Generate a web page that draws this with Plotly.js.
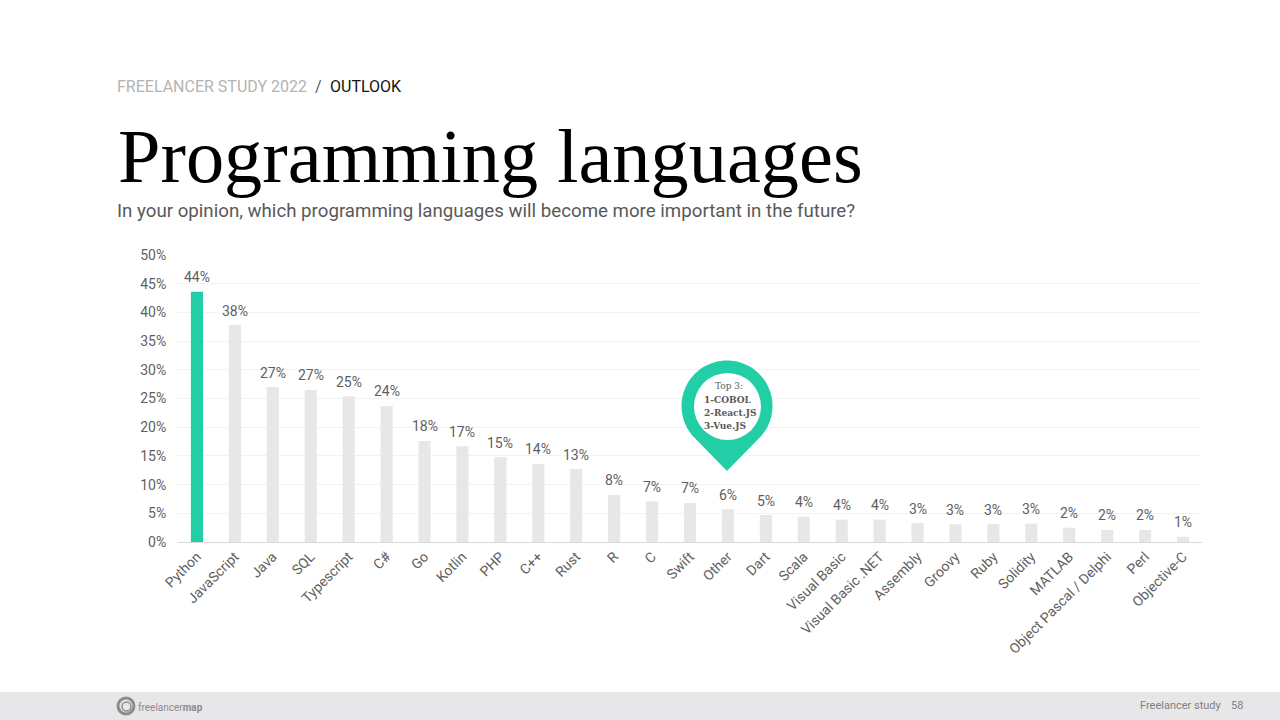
<!DOCTYPE html>
<html><head><meta charset="utf-8">
<script src="https://cdn.plot.ly/plotly-3.0.1.min.js"></script>
<style>html,body{margin:0;padding:0;background:#fff}#c{width:1280px;height:720px}</style></head>
<body><div id="c"></div>
<script>
const languages = ["Python","JavaScript","Java","SQL","Typescript","C#","Go","Kotlin","PHP","C++","Rust","R","C","Swift","Other","Dart","Scala","Visual Basic","Visual Basic .NET","Assembly","Groovy","Ruby","Solidity","MATLAB","Object Pascal / Delphi","Perl","Objective-C"];
const shares = [43.6,37.8,27.0,26.5,25.4,23.7,17.6,16.7,14.8,13.6,12.7,8.2,7.1,6.8,5.7,4.7,4.4,3.9,3.9,3.3,3.1,3.1,3.2,2.5,2.1,2.1,0.9];
const shareLabels = ["44%","38%","27%","27%","25%","24%","18%","17%","15%","14%","13%","8%","7%","7%","6%","5%","4%","4%","4%","3%","3%","3%","3%","2%","2%","2%","1%"];
const yTicks = [0,5,10,15,20,25,30,35,40,45,50];
const yTickLabels = ["0%","5%","10%","15%","20%","25%","30%","35%","40%","45%","50%"];
const highlightColor = "#22cea5", barColor = "#e7e7e9", textColor = "#5f5f5f";

const L=178,R=1202,T=255,B=542;
const px = x => (x-L)/(R-L), py = y => (B-y)/(B-T);
const note = (x,y,text,size,color,family,anchor,extra) => Object.assign({
  xref:"paper",yref:"paper",x:px(x),y:py(y),text:text,showarrow:false,xanchor:anchor||"left",yanchor:"middle",
  font:{size:size,color:color,family:family}},extra||{});
const pinPath = () => {
  const cx=727,cy=406,r=45.5,tipY=471;
  const P=(x,y)=>px(x).toFixed(5)+","+py(y).toFixed(5);
  const half=Math.acos(r/(tipY-cy));
  let d="M"+P(cx,tipY);
  for(let i=0;i<=72;i++){
    const a=half+(2*Math.PI-2*half)*i/72;
    d+=" L"+P(cx-r*Math.sin(a),cy+r*Math.cos(a));
  }
  return d+" Z";
};
const roboto="Roboto, sans-serif", serif="'Liberation Serif', serif", slab="'DejaVu Serif', serif";
const barLabels = languages.map((name,i)=>({xref:"x",yref:"y",x:name,y:shares[i],text:shareLabels[i],showarrow:false,
  xanchor:"center",yanchor:"middle",yshift:14.5,font:{size:14,color:textColor,family:roboto}}));

const layout = {
  width:1280,height:720,paper_bgcolor:"#fff",plot_bgcolor:"#fff",showlegend:false,
  margin:{l:L,r:1280-R,t:T,b:720-B,pad:0},bargap:0.68,
  font:{family:roboto,color:textColor,size:14},
  xaxis:{type:"category",tickangle:-45,tickfont:{size:14,color:textColor,family:roboto},showgrid:false,
    showline:true,linecolor:"#d9d9d9",linewidth:1,ticks:"",automargin:false},
  yaxis:{range:[0,50],tickmode:"array",tickvals:yTicks,ticktext:yTickLabels,tickfont:{size:14,color:textColor,family:roboto},
    gridcolor:"#f2f2f2",gridwidth:1,zeroline:false,showline:false,ticks:"outside",ticklen:8,tickcolor:"rgba(0,0,0,0)",automargin:false},
  shapes:[
    {type:"rect",xref:"paper",yref:"paper",x0:px(0),x1:px(1280),y0:py(692),y1:py(720),fillcolor:"#e7e7e9",line:{width:0},layer:"below"},
    {type:"path",xref:"paper",yref:"paper",path:pinPath(),fillcolor:highlightColor,line:{width:0},layer:"above"},
    {type:"circle",xref:"paper",yref:"paper",x0:px(694),x1:px(761),y0:py(373),y1:py(440),fillcolor:"#fff",line:{width:0},layer:"above"},
    {type:"circle",xref:"paper",yref:"paper",x0:px(118),x1:px(134),y0:py(698),y1:py(714),fillcolor:"#e7e7e9",line:{width:3,color:"#8c8c8c"},layer:"above"},
    {type:"circle",xref:"paper",yref:"paper",x0:px(122),x1:px(131),y0:py(702),y1:py(711),fillcolor:"rgba(0,0,0,0)",line:{width:1.5,color:"#8c8c8c"},layer:"above"}
  ],
  annotations:barLabels.concat([
    note(115,87,"FREELANCER STUDY 2022",16,"#b3b3b3",roboto),
    note(313,87,"/",16,"#595959",roboto),
    note(328,87,"OUTLOOK",16,"#111",roboto),
    note(116,156.5,"Programming languages",76.4,"#000",serif),
    note(115,211,"In your opinion, which programming languages will become more important in the future?",18.7,"#595959",roboto),
    note(729,386,"Top 3:",9,"#595959",slab,"center"),
    note(702,399.5,"<b>1-COBOL</b>",9,"#595959",slab),
    note(702,412.5,"<b>2-React.JS</b>",9,"#595959",slab),
    note(702,425.5,"<b>3-Vue.JS</b>",9,"#595959",slab),
    note(136,707,"freelancer<b>map</b>",10,"#8c8c8c",roboto),
    note(1224,705,"Freelancer study",11,"#808080",roboto,"right"),
    note(1245,705,"58",11,"#808080",roboto,"right")
  ])
};
const trace = {type:"bar",x:languages,y:shares,cliponaxis:false,hoverinfo:"x+y",
  marker:{color:languages.map((_,i)=>i===0?highlightColor:barColor),line:{width:0}}};
Plotly.newPlot("c",[trace],layout,{displayModeBar:false,staticPlot:true});
</script></body></html>
